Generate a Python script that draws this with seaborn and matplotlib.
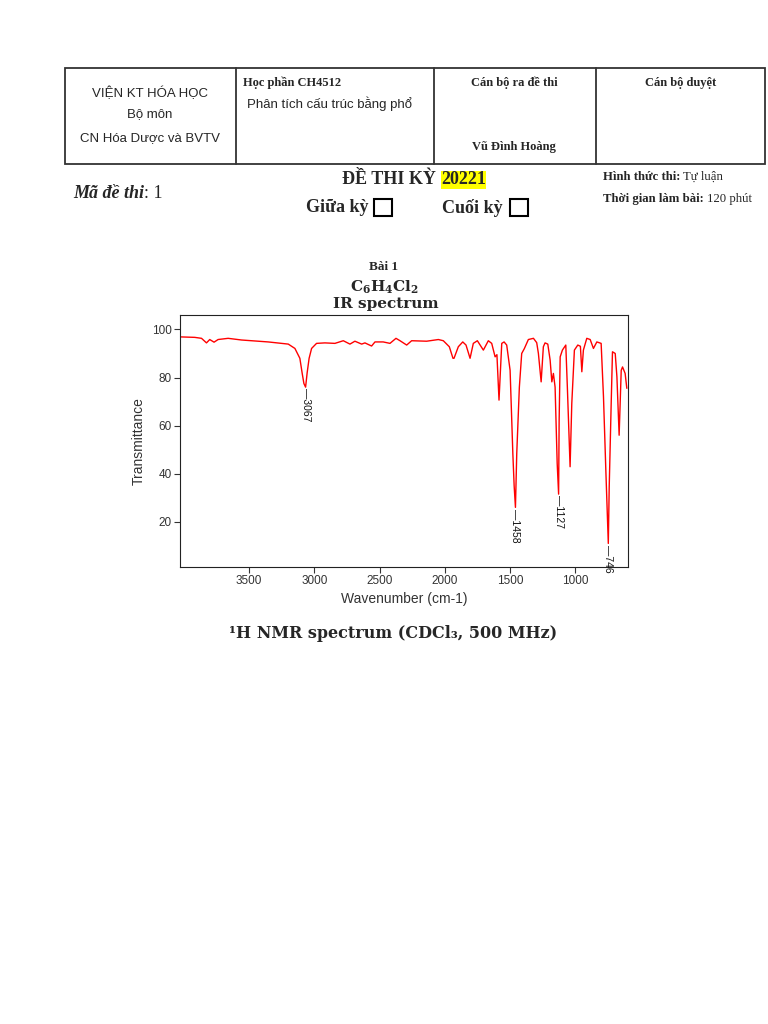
import numpy as np
import pandas as pd
import matplotlib
matplotlib.use("Agg")
import matplotlib.pyplot as plt
import seaborn as sns
from matplotlib.patches import Rectangle
from matplotlib.lines import Line2D

# Espectro IR (número de onda en cm-1, transmitancia %)
wavenumber = [4030, 3917, 3865, 3827, 3802, 3769, 3738, 3661, 3558, 3354,
              3200, 3149, 3111, 3093, 3080, 3067, 3055, 3040, 3021, 2983,
              2919, 2842, 2778, 2727, 2689, 2637, 2612, 2561, 2535, 2472,
              2420, 2374, 2343, 2292, 2254, 2139, 2049, 2011, 1965, 1937,
              1929, 1896, 1862, 1837, 1806, 1781, 1750, 1704, 1666, 1640,
              1614, 1600, 1584, 1563, 1545, 1525, 1499, 1478, 1468, 1458,
              1448, 1428, 1410, 1390, 1359, 1320, 1295, 1282, 1261, 1244,
              1231, 1210, 1192, 1179, 1167, 1154, 1138, 1127, 1123, 1115,
              1098, 1072, 1060, 1039, 1026, 1006, 980, 960, 949, 937,
              911, 885, 860, 834, 801, 783, 765, 746, 739, 724,
              714, 693, 680, 663, 647, 637, 617, 604]
transmittance = [96.9, 96.7, 96.3, 94.4, 95.8, 94.7, 95.8, 96.3, 95.6, 94.8,
                 93.9, 92.1, 88.0, 81.7, 77.5, 76.0, 82.0, 88.0, 92.1, 94.2,
                 94.4, 94.2, 95.3, 93.9, 95.1, 93.9, 94.4, 93.1, 94.8, 94.8,
                 94.2, 96.3, 95.3, 93.5, 95.3, 95.1, 95.8, 95.3, 92.8, 88.0,
                 88.0, 92.8, 94.8, 93.5, 88.0, 94.2, 95.3, 91.4, 95.3, 94.2,
                 88.6, 89.5, 70.6, 94.2, 94.8, 93.5, 83.0, 48.4, 35.0, 26.0,
                 48.4, 76.0, 90.0, 92.0, 95.8, 96.3, 94.5, 90.0, 78.2, 92.8,
                 94.4, 93.9, 87.2, 78.2, 81.7, 76.0, 44.3, 31.5, 62.0, 88.6,
                 91.4, 93.5, 76.0, 42.9, 69.2, 91.4, 93.5, 93.0, 82.4, 91.4,
                 96.3, 95.8, 92.1, 94.8, 94.2, 72.0, 41.5, 11.0, 34.6, 69.0,
                 90.7, 90.0, 80.3, 56.0, 83.0, 84.4, 81.7, 75.5]

peak_pos = [3067, 1458, 1127, 746]
peak_val = [76.0, 26.0, 31.5, 11.0]

df = pd.DataFrame({"wn": wavenumber, "T": transmittance})

W, H = 768, 1024
SERIF = ["Liberation Serif", "DejaVu Serif"]
SANS = ["Liberation Sans", "DejaVu Sans"]
HEAVY = ["DejaVu Serif"]


def px(x, y):
    # pasa coordenadas de pixel de la página a coordenadas de figura
    return x / W, 1 - y / H


sns.set_style("ticks")
plt.rcParams["font.family"] = SANS
plt.rcParams["mathtext.fontset"] = "dejavuserif"

fig = plt.figure(figsize=(7.68, 10.24), dpi=100)
fig.patch.set_facecolor("white")
renderer = fig.canvas.get_renderer()


def texto(x, y, s, **kw):
    return fig.text(*px(x, y), s, **kw)


def texto_seguido(t, y, s, gap=3, **kw):
    # coloca un texto justo a la derecha de otro
    bb = t.get_window_extent(renderer=renderer)
    return texto(bb.x1 + gap, y, s, ha="left", **kw)


# Tabla de cabecera
tcol = "#333333"
fig.add_artist(Rectangle(px(65, 164), 700 / W, 96 / H, transform=fig.transFigure,
                         fill=False, edgecolor=tcol, linewidth=1.3))
for xv in [235.5, 434, 596]:
    fig.add_artist(Line2D([xv / W, xv / W], [1 - 68 / H, 1 - 164 / H],
                          transform=fig.transFigure, color=tcol, linewidth=1.3))

texto(150, 93, "VIỆN KT HÓA HỌC", family=SANS, fontsize=9.5, ha="center", va="center")
texto(150, 114, "Bộ môn", family=SANS, fontsize=9.5, ha="center", va="center")
texto(150, 138, "CN Hóa Dược và BVTV", family=SANS, fontsize=9.5, ha="center", va="center")
texto(243, 83, "Học phần CH4512", family=SERIF, fontsize=9, weight="bold", ha="left", va="center")
texto(247, 104, "Phân tích cấu trúc bằng phổ", family=SANS, fontsize=9.5, ha="left", va="center")
texto(514, 83, "Cán bộ ra đề thi", family=SERIF, fontsize=9, weight="bold", ha="center", va="center")
texto(514, 147, "Vũ Đình Hoàng", family=SERIF, fontsize=9, weight="bold", ha="center", va="center")
texto(681, 83, "Cán bộ duyệt", family=SERIF, fontsize=9, weight="bold", ha="center", va="center")

# Datos del examen
t = texto(73, 193, "Mã đề thi", family=SERIF, fontsize=13, weight="bold", style="italic",
          ha="left", va="center")
texto_seguido(t, 193, ": 1", gap=0, family=SERIF, fontsize=13, va="center")
texto(440, 180, "ĐỀ THI KỲ ", family=SERIF, fontsize=13, weight="bold", ha="right", va="center")
texto(441, 180, "20221", family=SERIF, fontsize=13, weight="bold", ha="left", va="center",
      bbox=dict(facecolor="yellow", edgecolor="none", pad=0.3))
texto(368, 208, "Giữa kỳ", family=SERIF, fontsize=13, weight="bold", ha="right", va="center")
texto(503, 208, "Cuối kỳ", family=SERIF, fontsize=13, weight="bold", ha="right", va="center")
for bx in [374, 510]:
    fig.add_artist(Rectangle(px(bx, 216), 18 / W, 17 / H, transform=fig.transFigure,
                             fill=False, edgecolor="black", linewidth=1.5))
t = texto(603, 177, "Hình thức thi:", family=SERIF, fontsize=9.2, weight="bold", ha="left", va="center")
texto_seguido(t, 177, "Tự luận", family=SERIF, fontsize=9.2, va="center")
t = texto(603, 199, "Thời gian làm bài:", family=SERIF, fontsize=9.2, weight="bold", ha="left", va="center")
texto_seguido(t, 199, "120 phút", family=SERIF, fontsize=9.2, va="center")

# Títulos del ejercicio
texto(384, 267, "Bài 1", family=SERIF, fontsize=9.5, weight="bold", ha="center", va="center")
texto(384, 287, r"$\mathbf{C_6H_4Cl_2}$", fontsize=11, ha="center", va="center")
texto(386, 304, "IR spectrum", family=HEAVY, fontsize=11, weight="bold", ha="center", va="center")
texto(393, 634, "¹H NMR spectrum (CDCl₃, 500 MHz)", family=HEAVY, fontsize=11.5,
      weight="bold", ha="center", va="center")

# Gráfico del espectro IR
x0, y0 = px(180, 567)
ax = fig.add_axes([x0, y0, 448 / W, 252 / H])
sns.lineplot(data=df, x="wn", y="T", ax=ax, color="red", linewidth=1.0, sort=False)
ax.set_xlim(4030, 595)
ax.set_ylim(1.2, 106)
ax.set_xticks([3500, 3000, 2500, 2000, 1500, 1000])
ax.set_yticks([20, 40, 60, 80, 100])
ax.tick_params(labelsize=8.5, colors="#333333", length=4, width=0.8, pad=2)
ax.set_xlabel("Wavenumber (cm-1)", fontsize=10, color="#333333", labelpad=3)
ax.set_ylabel("Transmittance", fontsize=10, color="#333333", labelpad=4)
for sp in ax.spines.values():
    sp.set_visible(True)
    sp.set_linewidth(0.8)
    sp.set_color("#222222")

for p, v in zip(peak_pos, peak_val):
    ax.text(p, v - 0.5, "—" + str(p), rotation=-90, fontsize=7.5, family=SANS,
            ha="center", va="top", color="#111111")

fig.savefig("out.png", dpi=100, facecolor="white")
